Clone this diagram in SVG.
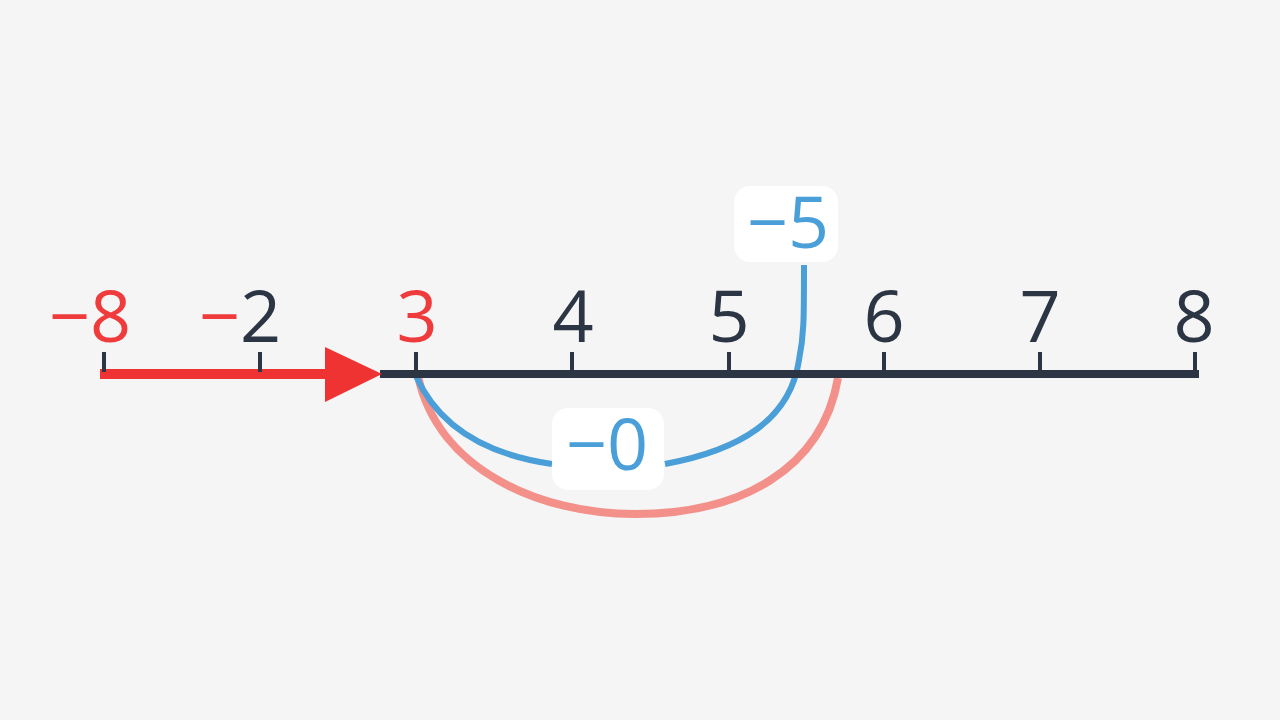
<svg xmlns="http://www.w3.org/2000/svg" width="1280" height="720" viewBox="0 0 1280 720">
<style>
.lbl{font-family:"Open Sans","Liberation Sans",sans-serif;font-size:72px;text-anchor:middle}
.dark{fill:#2b3544}
.red{fill:#ef3b3b}
.blue{fill:#4a9fd8}
.tick{stroke:#2b3544;stroke-width:4}
</style>
<rect width="1280" height="720" fill="#f5f5f5"/>
<g id="connectors">
<path d="M418,376 C438,470 540,514 635,514 C740,514 822,470 838,378" fill="none" stroke="#f4908a" stroke-width="8"/>
<path d="M416,376 C440,430 490,455 552,464" fill="none" stroke="#4a9fd8" stroke-width="6"/>
<path d="M665,464 C740,450 790,420 799,360 C804,335 804,320 804,265" fill="none" stroke="#4a9fd8" stroke-width="6"/>
</g>
<g id="axis">
<line x1="380" y1="374" x2="1199" y2="374" stroke="#2b3544" stroke-width="8"/>
<line x1="100" y1="374" x2="330" y2="374" stroke="#ef3333" stroke-width="10"/>
<polygon points="325,347 382,374 325,402" fill="#ef3333"/>
<line class="tick" x1="104" y1="352" x2="104" y2="372"/>
<line class="tick" x1="260" y1="352" x2="260" y2="372"/>
<line class="tick" x1="416" y1="352" x2="416" y2="372"/>
<line class="tick" x1="572" y1="352" x2="572" y2="372"/>
<line class="tick" x1="729" y1="352" x2="729" y2="372"/>
<line class="tick" x1="884" y1="352" x2="884" y2="372"/>
<line class="tick" x1="1040" y1="352" x2="1040" y2="372"/>
<line class="tick" x1="1195" y1="352" x2="1195" y2="372"/>
</g>
<g id="labels">
<text class="lbl red" x="90" y="342">−8</text>
<text class="lbl" x="240" y="342"><tspan class="red">−</tspan><tspan class="dark">2</tspan></text>
<text class="lbl red" x="417" y="342">3</text>
<text class="lbl dark" x="573" y="342">4</text>
<text class="lbl dark" x="729" y="342">5</text>
<text class="lbl dark" x="884" y="342">6</text>
<text class="lbl dark" x="1040" y="342">7</text>
<text class="lbl dark" x="1194" y="342">8</text>
</g>
<g id="node-minus5">
<rect x="734" y="186" width="104" height="76" rx="16" fill="#ffffff"/>
<text class="lbl blue" x="788" y="248">−5</text>
</g>
<g id="node-minus0">
<rect x="552" y="408" width="112" height="82" rx="16" fill="#ffffff"/>
<text class="lbl blue" x="607" y="470">−0</text>
</g>
</svg>
